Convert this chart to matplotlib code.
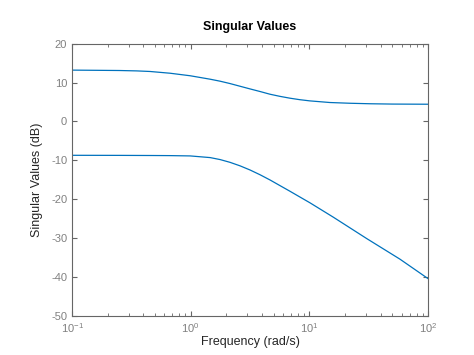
import matplotlib
matplotlib.use("Agg")
from matplotlib import pyplot as plt
from matplotlib.ticker import LogLocator, NullFormatter

plt.rcParams['font.family'] = ['Liberation Sans', 'DejaVu Sans']
plt.rcParams['axes.unicode_minus'] = False

# values (frequency in rad/s, singular values in dB)
freq_upper = [0.1, 0.25, 0.35, 0.454, 0.67, 0.99, 1.46, 1.77, 2.14, 2.6, 3.16,
              3.84, 4.66, 5.66, 6.87, 8.3, 10.1, 14.9, 22, 32.7, 50, 100]
sv_upper = [13.2, 13.1, 13.0, 12.85, 12.4, 11.75, 10.86, 10.35, 9.75, 9.06, 8.37,
            7.7, 7.0, 6.45, 5.98, 5.6, 5.29, 4.87, 4.68, 4.55, 4.47, 4.43]

freq_lower = [0.1, 0.25, 0.454, 0.67, 0.99, 1.46, 1.77, 2.14, 2.6, 3.16, 3.84,
              4.66, 5.66, 6.87, 8.3, 10.1, 15.9, 30.4, 58, 100]
sv_lower = [-8.7, -8.72, -8.75, -8.78, -8.86, -9.29, -9.8, -10.5, -11.4, -12.47, -13.7,
            -15.04, -16.5, -17.95, -19.4, -20.9, -24.6, -30.1, -35.4, -40.4]

line_color = '#0072BD'
axis_gray = '#666666'
label_gray = '#808080'

fig = plt.figure(figsize=(4.74, 3.55), dpi=100)
ax = fig.add_axes([0.152, 0.110, 0.751, 0.767])

ax.semilogx(freq_upper, sv_upper, color=line_color, lw=0.9)
ax.semilogx(freq_lower, sv_lower, color=line_color, lw=0.9)

ax.set_xlim(0.1, 100)
ax.set_ylim(-50, 20)
ax.set_yticks(range(-50, 21, 10))
ax.xaxis.set_major_locator(LogLocator(base=10, numticks=10))
ax.xaxis.set_minor_locator(LogLocator(base=10, subs=range(2, 10), numticks=10))
ax.xaxis.set_minor_formatter(NullFormatter())

for s in ax.spines.values():
    s.set_color(axis_gray)
    s.set_linewidth(0.8)
ax.tick_params(which='both', direction='in', top=True, right=True,
               colors=axis_gray, labelcolor=label_gray, labelsize=8)
ax.tick_params(which='major', length=3.5)
ax.tick_params(which='minor', length=2)

ax.set_title('Singular Values', fontsize=9, fontweight='bold', color='black', pad=10)
ax.set_xlabel('Frequency (rad/s)', fontsize=9, color='#262626', labelpad=1)
ax.set_ylabel('Singular Values (dB)', fontsize=9, color='#262626', labelpad=6)

fig.savefig('out.png', dpi=100)
